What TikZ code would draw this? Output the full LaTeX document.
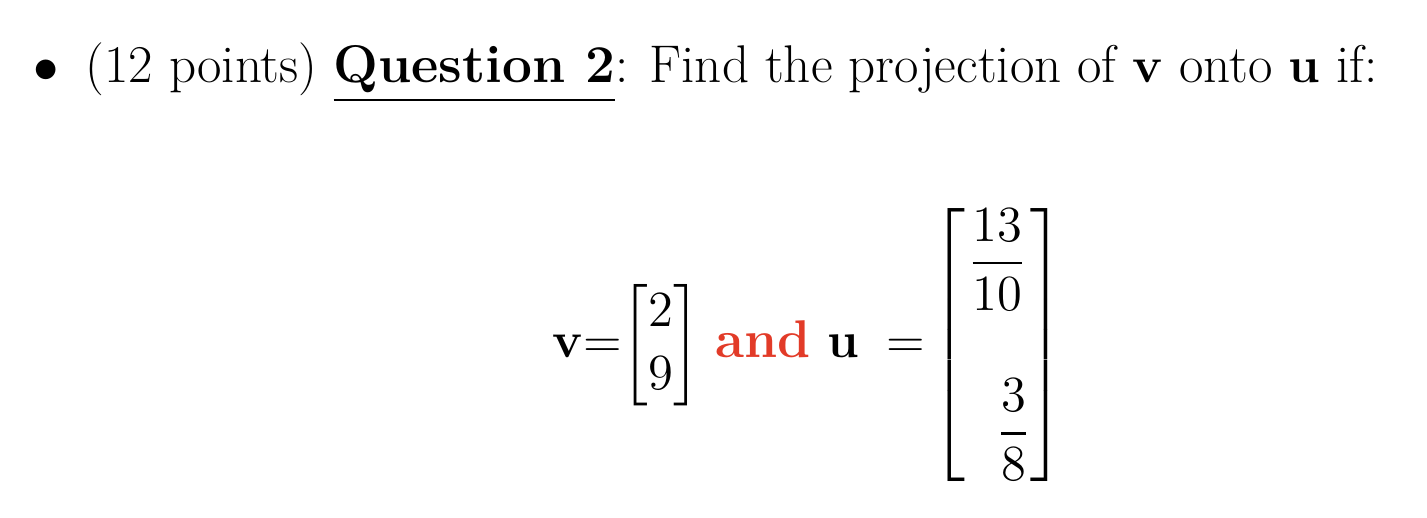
\documentclass[tikz,border=0pt]{standalone}
\usepackage{amsmath}
\definecolor{andred}{RGB}{226,59,40}
\begin{document}
\begin{tikzpicture}[every node/.style={inner sep=0pt}]
\useasboundingbox (0,0) rectangle (14.27,-5.18);
\node[anchor=west] (line) at (0.33,-0.73) {\fontsize{15.1}{18}\selectfont $\bullet$\enspace (12 points) \underline{\textbf{Question 2}}: Find the projection of $\mathbf{v}$ onto $\mathbf{u}$ if:};
\node (eq) at (8.08,-3.45) {\fontsize{15.1}{18}\selectfont $\mathbf{v}{=}\!\begin{bmatrix}2\\9\end{bmatrix}$\ \textcolor{andred}{\textbf{and}} $\mathbf{u}\;=\!\begin{bmatrix}\dfrac{13}{10}\\[24pt] \ \ \dfrac{3}{8}\end{bmatrix}$};
\end{tikzpicture}
\end{document}
